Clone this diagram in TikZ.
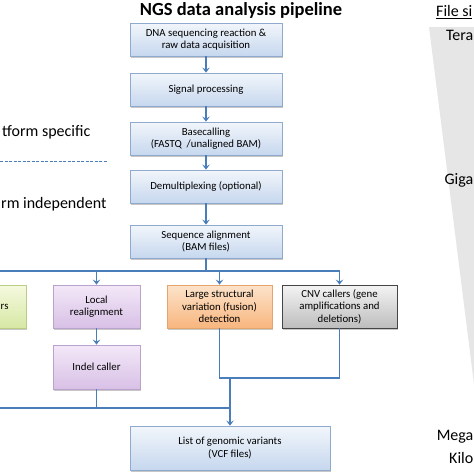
\documentclass[tikz,border=0pt]{standalone}
\usepackage{fontspec}
\setmainfont{Carlito}
\usetikzlibrary{arrows.meta,shadows,shadings}
\definecolor{lineblue}{HTML}{4A7EBB}
\definecolor{bluebd}{HTML}{8FAACC}
\definecolor{bluetop}{HTML}{F2F6FB}
\definecolor{bluebot}{HTML}{C6D7EE}
\definecolor{purpbd}{HTML}{B9A2CB}
\definecolor{purptop}{HTML}{F3E8F8}
\definecolor{purpbot}{HTML}{D8C0E6}
\definecolor{orbd}{HTML}{E3A56B}
\definecolor{ortop}{HTML}{FCE3CB}
\definecolor{orbot}{HTML}{F8B67E}
\definecolor{grbd}{HTML}{454545}
\definecolor{grtop}{HTML}{F4F4F4}
\definecolor{grbot}{HTML}{BDBDBD}
\definecolor{gnbd}{HTML}{B9CD84}
\definecolor{gntop}{HTML}{F5F9DF}
\definecolor{gnbot}{HTML}{D6E8A4}
\definecolor{wedge}{HTML}{E6E6E6}
\tikzset{
  boxbase/.style={line width=0.8pt, align=center, inner sep=1pt,
    font=\fontsize{10.8}{12.6}\selectfont,
    drop shadow={shadow xshift=1.2pt, shadow yshift=-1.6pt, fill=black, opacity=0.22}},
  bluebox/.style={boxbase, draw=bluebd, top color=bluetop, bottom color=bluebot,
    minimum width=152pt, minimum height=33pt},
  purpbox/.style={boxbase, draw=purpbd, top color=purptop, bottom color=purpbot,
    minimum width=87pt},
  orbox/.style={boxbase, draw=orbd, top color=ortop, bottom color=orbot,
    minimum width=105pt, minimum height=43pt},
  greybox/.style={boxbase, draw=grbd, top color=grtop, bottom color=grbot,
    minimum width=115pt, minimum height=43pt},
  greenbox/.style={boxbase, draw=gnbd, top color=gntop, bottom color=gnbot,
    minimum width=87pt, minimum height=43pt},
  conn/.style={draw=lineblue, line width=1.8pt},
  arr/.style={conn, -{Stealth[length=5pt,width=7.5pt,inset=2pt]}},
  bigtext/.style={font=\fontsize{16}{20}\selectfont, inner sep=0pt, anchor=west},
  righttext/.style={font=\fontsize{16}{20}\selectfont, inner sep=0pt, anchor=east},
}
\begin{document}
\begin{tikzpicture}[x=1pt,y=-1pt]
\useasboundingbox (0,0) rectangle (474,474);
\clip (0,0) rectangle (474,474);
\fill[wedge] (429,27) -- (540,27) -- (540,400) -- (476,400) -- cycle;

\node[font=\bfseries\fontsize{18.5}{21}\selectfont, inner sep=0pt] (title) at (241,10) {NGS data analysis pipeline};

\node[bluebox] (b1) at (206,39.5) {DNA sequencing reaction \&\\raw data acquisition};
\node[bluebox] (b2) at (206,89.5) {Signal processing};
\node[bluebox] (b3) at (206,138.5) {Basecalling\\(FASTQ\ \ /unaligned BAM)};
\node[bluebox] (b4) at (206,186.5) {Demultiplexing (optional)};
\node[bluebox] (b5) at (206,241.5) {Sequence alignment\\(BAM files)};

\node[greenbox, text width=52pt, align=right] (snv) at (-17.5,306.5) {rs};
\node[purpbox, minimum height=43pt] (loc) at (96.5,306.5) {Local\\realignment};
\node[orbox] (sv) at (219.5,306.5) {Large structural\\variation (fusion)\\detection};
\node[greybox] (cnv) at (339.5,306.5) {CNV callers (gene\\amplifications and\\deletions)};
\node[purpbox, minimum height=44pt] (indel) at (96.5,367) {Indel caller};
\node[bluebox, minimum width=200pt, minimum height=44pt] (list) at (230,448) {List of genomic variants\\(VCF files)};

\draw[arr] (b1) -- (b2);
\draw[arr] (b2) -- (b3);
\draw[arr] (b3) -- (b4);
\draw[arr] (b4) -- (b5);

\coordinate (busL) at (-17.5,271);
\coordinate (busR) at (339.5,271);
\coordinate (busM) at (206,271);
\draw[conn] (b5.south) -- (busM);
\draw[conn] (busL) -- (busR);
\draw[arr] (snv.north |- busL) -- (snv.north);
\draw[arr] (loc.north |- busL) -- (loc.north);
\draw[arr] (sv.north |- busL) -- (sv.north);
\draw[arr] (busR) -- (cnv.north);
\draw[arr] (loc) -- (indel);

\coordinate (lowL) at (-17.5,408);
\coordinate (lowR) at (230,408);
\coordinate (merge) at (230,378);
\draw[conn] (snv.south) -- (lowL) -- (lowR);
\draw[conn] (indel.south) -- (indel.south |- lowL);
\draw[conn] (sv.south) -- (sv.south |- merge) -- (cnv.south |- merge) -- (cnv.south);
\draw[arr] (merge) -- (list.north);

\node[bigtext] (pspec) at (2,132) {tform specific};
\coordinate (dashL) at (0,161);
\coordinate (dashR) at (108,161);
\draw[draw=lineblue, line width=0.9pt, dash pattern=on 3pt off 1.5pt] (dashL) -- (dashR);
\node[bigtext] (pind) at (1,204) {rm independent};

\node[bigtext] (fsize) at (436,12) {\underline{File si}};
\node[righttext] (tera) at (473.5,35) {Tera};
\node[righttext] (giga) at (473.5,180) {Giga};
\node[righttext] (mega) at (473.5,437) {Mega};
\node[righttext] (kilo) at (473.5,458) {Kilo};
\end{tikzpicture}
\end{document}
